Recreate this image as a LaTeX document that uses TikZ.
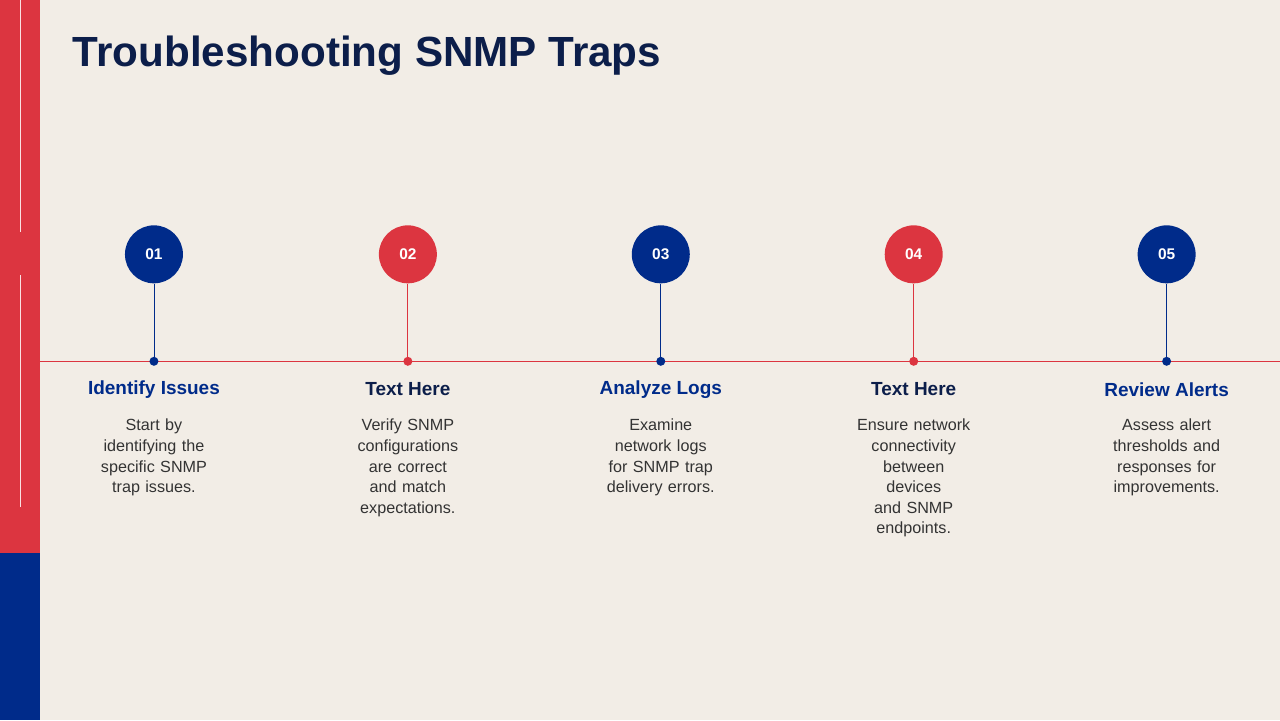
\documentclass[tikz,border=0pt]{standalone}
\usepackage{fontspec}
\setmainfont{Liberation Sans}
\definecolor{bgpaper}{HTML}{F2EDE6}
\definecolor{snmpred}{HTML}{DC3540}
\definecolor{snmpblue}{HTML}{002B8A}
\definecolor{titleblue}{HTML}{0C1E4A}
\tikzset{
  stepcircle/.style={circle, minimum size=58*0.025cm, inner sep=0pt, text=white, font=\bfseries\fontsize{11}{13}\selectfont},
  stepdot/.style={circle, minimum size=9*0.025cm, inner sep=0pt},
  stephead/.style={anchor=center, font=\bfseries\fontsize{13.5}{16}\selectfont},
  steptext/.style={anchor=north, align=center, text width=115*0.025cm, text=black!80, font=\fontsize{11.5}{14.6}\selectfont},
}
\begin{document}
\begin{tikzpicture}[x=0.025cm, y=-0.025cm]
	\fill[bgpaper] (0,0) rectangle (1280,720);
	\fill[snmpred] (0,0) rectangle (40,553);
	\fill[snmpblue] (0,553) rectangle (40,720);
	\draw[white!85!snmpred, line width=0.6pt] (20,0) -- (20,232);
	\draw[white!85!snmpred, line width=0.6pt] (20,275) -- (20,507);
	\node[anchor=west, text=titleblue, font=\bfseries\fontsize{30}{36}\selectfont] (title) at (68,55) {Troubleshooting SNMP Traps};
	\coordinate (lstart) at (40,361);
	\coordinate (lend) at (1280,361);
	\draw[snmpred, line width=0.6pt] (lstart) -- (lend);
	\foreach \x/\n/\c/\hc/\head/\body in {
		154/01/snmpblue/snmpblue/Identify Issues/{Start by identifying the specific SNMP trap issues.},
		408/02/snmpred/titleblue/Text Here/{Verify SNMP configurations are correct and match expectations.},
		661/03/snmpblue/snmpblue/Analyze Logs/{Examine network logs for SNMP trap delivery errors.},
		914/04/snmpred/titleblue/Text Here/{Ensure network connectivity between devices and SNMP endpoints.},
		1167/05/snmpblue/snmpblue/Review Alerts/{Assess alert thresholds and responses for improvements.}}{
		\node[stepcircle, fill=\c] (c\n) at (\x,254) {\n};
		\node[stepdot, fill=\c] (d\n) at (\x,361) {};
		\draw[\c, line width=0.6pt] (c\n) -- (d\n);
		\node[stephead, text=\hc] (h\n) at (\x,389) {\head};
		\node[steptext] (t\n) at (\x,414) {\body};
	}
\end{tikzpicture}
\end{document}
